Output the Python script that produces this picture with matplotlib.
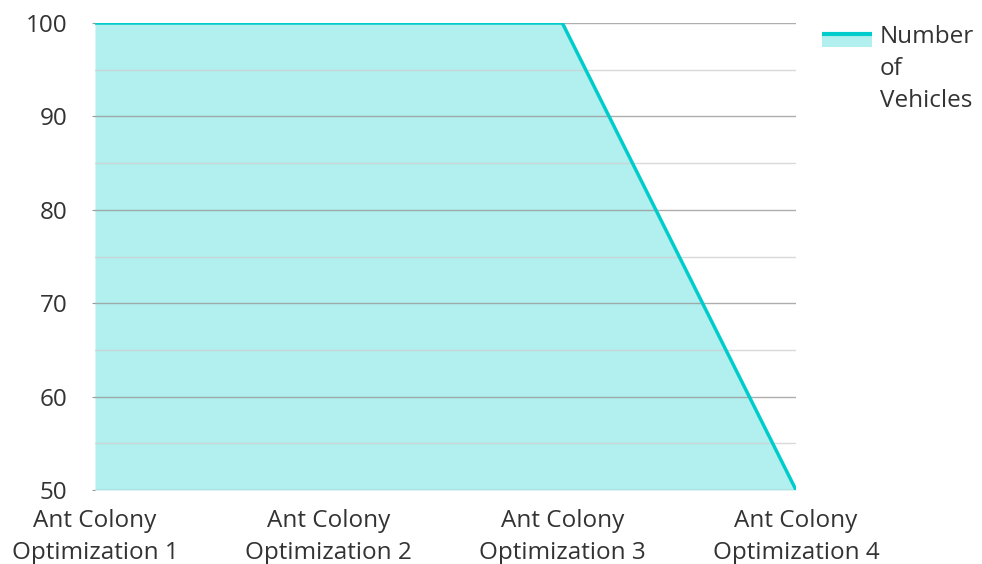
import numpy as np
import matplotlib.pyplot as plt
from matplotlib.patches import Rectangle
from matplotlib.lines import Line2D

plt.rcParams['font.family'] = ['Open Sans', 'DejaVu Sans']

categories = ['Ant Colony\nOptimization 1', 'Ant Colony\nOptimization 2',
              'Ant Colony\nOptimization 3', 'Ant Colony\nOptimization 4']
vehicles = [100, 100, 100, 50]
series_name = 'Number\nof\nVehicles'

line_color = '#00cccc'
fill_color = '#b2efef'
text_color = '#333333'
fs = 17.5

W, H = 982, 564
fig = plt.figure(figsize=(W / 100, H / 100), dpi=100)
ax = fig.add_axes([95 / W, 1 - 490 / H, (796 - 95) / W, (490 - 23) / H])

x = np.arange(len(categories))
ax.fill_between(x, vehicles, 50, color=fill_color, linewidth=0, zorder=1)
ax.plot(x, vehicles, color=line_color, linewidth=2.5, zorder=3, solid_capstyle='butt')

ax.set_xlim(0, len(categories) - 1)
ax.set_ylim(50, 100)
ax.set_yticks(np.arange(50, 101, 10))
ax.set_yticks(np.arange(55, 100, 10), minor=True)
ax.set_xticks(x)
ax.set_xticklabels(categories, linespacing=1.45)

ax.grid(axis='y', which='major', color='#999999', alpha=0.8, linewidth=1, zorder=2)
ax.grid(axis='y', which='minor', color='#d0d0d0', alpha=0.8, linewidth=1, zorder=2)
ax.set_axisbelow(False)
for s in ax.spines.values():
    s.set_visible(False)

ax.tick_params(axis='y', which='major', length=2, color='#999999', pad=18, labelsize=fs, labelcolor=text_color)
ax.tick_params(axis='y', which='minor', length=0)
ax.tick_params(axis='x', length=0, pad=13.5, labelsize=fs, labelcolor=text_color)

# legend: line over a filled band, then wrapped label
fig.add_artist(Rectangle((822 / W, 1 - 47 / H), 50 / W, 12 / H, transform=fig.transFigure,
                         facecolor=fill_color, edgecolor='none'))
fig.add_artist(Line2D([822 / W, 872 / W], [1 - 34 / H] * 2, transform=fig.transFigure,
                      color=line_color, linewidth=3, solid_capstyle='butt'))
fig.text(880 / W, 1 - 25 / H, series_name, fontsize=fs, color=text_color,
         va='top', ha='left', linespacing=1.45)

fig.savefig('out.png', dpi=100)
